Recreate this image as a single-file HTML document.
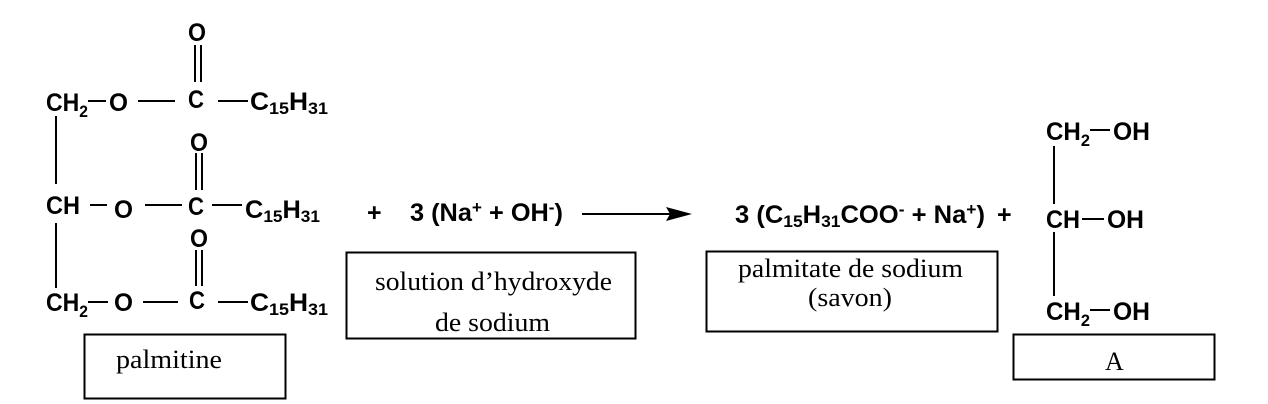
<!DOCTYPE html>
<html><head><meta charset="utf-8"><style>
html,body{margin:0;padding:0;background:#fff;width:1268px;height:404px;overflow:hidden}
svg{display:block}
.c{font-family:"Liberation Sans",Arial,sans-serif;font-weight:bold;font-size:25px;fill:#000}
.s{font-size:17px}
.t{font-family:"Liberation Serif","Times New Roman",serif;font-size:26px;fill:#000}
</style></head><body>
<svg width="1268" height="404" viewBox="0 0 1268 404" xmlns="http://www.w3.org/2000/svg">
<g stroke="#000" stroke-width="2" fill="none">
<line x1="56" y1="116" x2="56" y2="184"/>
<line x1="56" y1="223" x2="56" y2="288"/>
<line x1="88" y1="101" x2="106" y2="101"/>
<line x1="138" y1="101" x2="175" y2="101"/>
<line x1="218" y1="101" x2="248" y2="101"/>
<line x1="195" y1="45" x2="195" y2="82"/><line x1="201" y1="45" x2="201" y2="82"/>
<line x1="90" y1="205" x2="107" y2="205"/>
<line x1="145" y1="205" x2="182" y2="205"/>
<line x1="212" y1="205" x2="242" y2="205"/>
<line x1="196" y1="153" x2="196" y2="190"/><line x1="202" y1="153" x2="202" y2="190"/>
<line x1="88" y1="302" x2="108" y2="302"/>
<line x1="143" y1="302" x2="178" y2="302"/>
<line x1="218" y1="302" x2="248" y2="302"/>
<line x1="196" y1="250" x2="196" y2="286"/><line x1="202" y1="250" x2="202" y2="286"/>
<line x1="582" y1="214" x2="672" y2="214"/>
<line x1="1090" y1="130" x2="1110" y2="130"/>
<line x1="1082" y1="219" x2="1104" y2="219"/>
<line x1="1090" y1="310" x2="1110" y2="310"/>
<line x1="1054" y1="146" x2="1054" y2="204"/>
<line x1="1054" y1="232" x2="1054" y2="296"/>
<rect x="84.5" y="334.5" width="201" height="64"/>
<rect x="346.5" y="252.5" width="289" height="86"/>
<rect x="706.5" y="251.5" width="291" height="80"/>
<rect x="1013.5" y="334.5" width="201" height="45"/>
</g>
<polygon points="692,214 666,207 670,214 666,221" fill="#000"/>
<text class="c" x="188" y="41" textLength="18" lengthAdjust="spacingAndGlyphs">O</text>
<text class="c" x="46" y="111" textLength="42" lengthAdjust="spacingAndGlyphs">CH<tspan class="s" dy="6">2</tspan></text>
<text class="c" x="109" y="111" textLength="19" lengthAdjust="spacingAndGlyphs">O</text>
<text class="c" x="188" y="108" textLength="16" lengthAdjust="spacingAndGlyphs">C</text>
<text class="c" x="250" y="110" textLength="78" lengthAdjust="spacingAndGlyphs">C<tspan class="s" dy="4">15</tspan><tspan dy="-4">H</tspan><tspan class="s" dy="4">31</tspan></text>
<text class="c" x="190" y="151" textLength="18" lengthAdjust="spacingAndGlyphs">O</text>
<text class="c" x="46" y="214" textLength="34" lengthAdjust="spacingAndGlyphs">CH</text>
<text class="c" x="114" y="218" textLength="19" lengthAdjust="spacingAndGlyphs">O</text>
<text class="c" x="188" y="215" textLength="16" lengthAdjust="spacingAndGlyphs">C</text>
<text class="c" x="245" y="218" textLength="75" lengthAdjust="spacingAndGlyphs">C<tspan class="s" dy="4">15</tspan><tspan dy="-4">H</tspan><tspan class="s" dy="4">31</tspan></text>
<text class="c" x="190" y="247" textLength="18" lengthAdjust="spacingAndGlyphs">O</text>
<text class="c" x="46" y="311" textLength="42" lengthAdjust="spacingAndGlyphs">CH<tspan class="s" dy="6">2</tspan></text>
<text class="c" x="114" y="311" textLength="19" lengthAdjust="spacingAndGlyphs">O</text>
<text class="c" x="189" y="309" textLength="16" lengthAdjust="spacingAndGlyphs">C</text>
<text class="c" x="250" y="311" textLength="78" lengthAdjust="spacingAndGlyphs">C<tspan class="s" dy="4">15</tspan><tspan dy="-4">H</tspan><tspan class="s" dy="4">31</tspan></text>
<text class="c" x="367" y="221">+</text>
<text class="c" x="410" y="221" textLength="153" lengthAdjust="spacingAndGlyphs">3 (Na<tspan class="s" dy="-8">+</tspan><tspan dy="8"> + OH</tspan><tspan class="s" dy="-8">-</tspan><tspan dy="8">)</tspan></text>
<text class="c" x="735" y="223" textLength="250" lengthAdjust="spacingAndGlyphs">3 (C<tspan class="s" dy="4">15</tspan><tspan dy="-4">H</tspan><tspan class="s" dy="4">31</tspan><tspan dy="-4">COO</tspan><tspan class="s" dy="-8">-</tspan><tspan dy="8"> + Na</tspan><tspan class="s" dy="-8">+</tspan><tspan dy="8">)</tspan></text>
<text class="c" x="997" y="223">+</text>
<text class="c" x="1046" y="140" textLength="44" lengthAdjust="spacingAndGlyphs">CH<tspan class="s" dy="6">2</tspan></text>
<text class="c" x="1113" y="140" textLength="37" lengthAdjust="spacingAndGlyphs">OH</text>
<text class="c" x="1046" y="228" textLength="34" lengthAdjust="spacingAndGlyphs">CH</text>
<text class="c" x="1107" y="228" textLength="37" lengthAdjust="spacingAndGlyphs">OH</text>
<text class="c" x="1046" y="320" textLength="44" lengthAdjust="spacingAndGlyphs">CH<tspan class="s" dy="6">2</tspan></text>
<text class="c" x="1113" y="320" textLength="37" lengthAdjust="spacingAndGlyphs">OH</text>
<text class="t" x="116" y="368" textLength="106" lengthAdjust="spacingAndGlyphs">palmitine</text>
<text class="t" x="375" y="290" textLength="237" lengthAdjust="spacingAndGlyphs">solution d’hydroxyde</text>
<text class="t" x="435" y="331" textLength="115" lengthAdjust="spacingAndGlyphs">de sodium</text>
<text class="t" x="738" y="277" textLength="225" lengthAdjust="spacingAndGlyphs">palmitate de sodium</text>
<text class="t" x="808" y="306" textLength="84" lengthAdjust="spacingAndGlyphs">(savon)</text>
<text class="t" x="1105" y="370">A</text>
</svg>
</body></html>
